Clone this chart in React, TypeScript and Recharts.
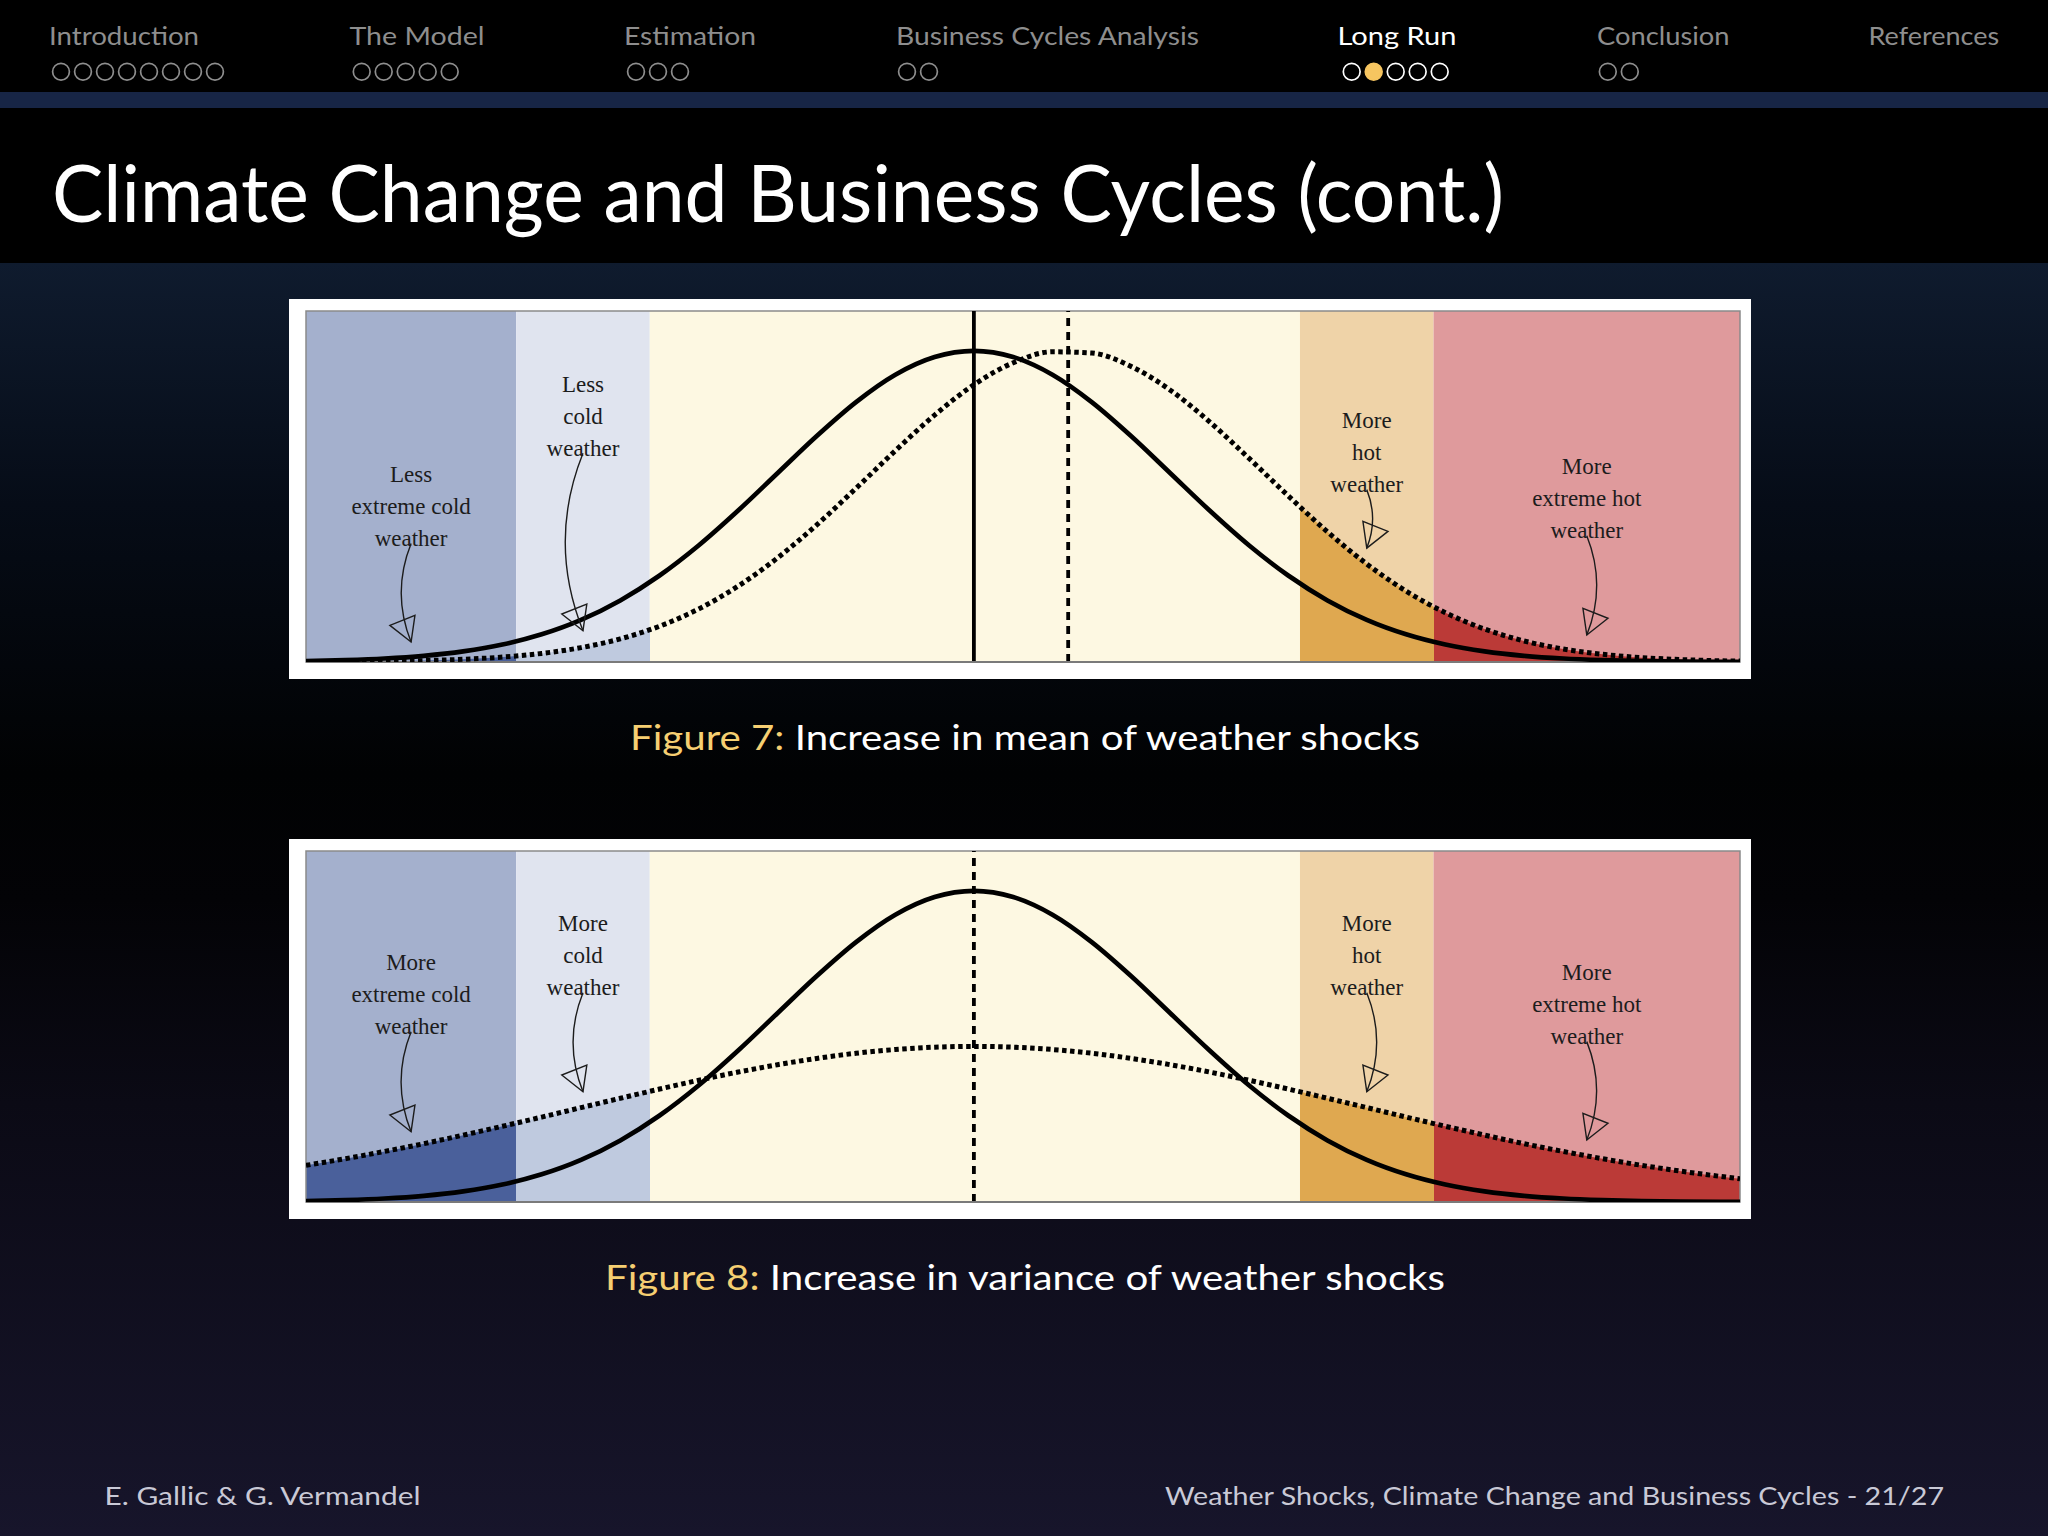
import React from 'react';
import { ComposedChart, Area, Line, XAxis, YAxis, ReferenceArea, ReferenceLine, ReferenceDot } from 'recharts';

// navigation bar
const sections = ['Introduction', 'The Model', 'Estimation', 'Business Cycles Analysis', 'Long Run', 'Conclusion', 'References'];
const sectionFrames = [8, 5, 3, 2, 5, 2, 0];
const activeSection = 4;
const activeFrame = 1;

const slideTitle = 'Climate Change and Business Cycles (cont.)';
const footerLeft = 'E. Gallic & G. Vermandel';
const footerRight = 'Weather Shocks, Climate Change and Business Cycles - 21/27';

// weather shocks, in standard deviations of the current climate
const shocks = [-3.4, -3.2, -3.0, -2.8, -2.6, -2.4, -2.2, -2.0, -1.8, -1.6, -1.4, -1.2, -1.0, -0.8, -0.6, -0.4, -0.2, 0,
  0.2, 0.4, 0.6, 0.8, 1.0, 1.2, 1.4, 1.6, 1.8, 2.0, 2.2, 2.4, 2.6, 2.8, 3.0, 3.2, 3.4, 3.6, 3.8, 3.9];

// density (same in both figures)
const currentClimate = [0.0012, 0.0024, 0.0044, 0.0079, 0.0136, 0.0224, 0.0355, 0.0540, 0.0790, 0.1109, 0.1497, 0.1942,
  0.2420, 0.2897, 0.3332, 0.3683, 0.3910, 0.3989, 0.3910, 0.3683, 0.3332, 0.2897, 0.2420, 0.1942, 0.1497, 0.1109,
  0.0790, 0.0540, 0.0355, 0.0224, 0.0136, 0.0079, 0.0044, 0.0024, 0.0012, 0.0006, 0.0003, 0.0002];

// figure 7, dotted curve
const higherMean = [0.0002, 0.0005, 0.0009, 0.0018, 0.0035, 0.0063, 0.0110, 0.0184, 0.0297, 0.0459, 0.0681, 0.0973,
  0.1334, 0.1758, 0.2227, 0.2709, 0.3166, 0.3555, 0.3836, 0.3977, 0.3961, 0.3790, 0.3485, 0.3079, 0.2613, 0.2131,
  0.1669, 0.1257, 0.0909, 0.0632, 0.0422, 0.0270, 0.0167, 0.0099, 0.0056, 0.0031, 0.0016, 0.0012];
const newMean = 0.48;

// figure 8, dotted curve
const higherVariance = [0.0470, 0.0555, 0.0648, 0.0748, 0.0857, 0.0971, 0.1089, 0.1210, 0.1330, 0.1448, 0.1561, 0.1666,
  0.1760, 0.1841, 0.1907, 0.1955, 0.1985, 0.1995, 0.1985, 0.1955, 0.1907, 0.1841, 0.1760, 0.1666, 0.1561, 0.1448,
  0.1330, 0.1210, 0.1089, 0.0971, 0.0857, 0.0748, 0.0648, 0.0555, 0.0470, 0.0395, 0.0328, 0.0298];

// extreme cold | cold | normal | hot | extreme hot
const bandEdges = [-3.4, -2.33, -1.65, 1.66, 2.34, 3.9];
const noteBands = [0, 1, 3, 4];

const meanNotes = [['Less', 'extreme cold', 'weather'], ['Less', 'cold', 'weather'], ['More', 'hot', 'weather'], ['More', 'extreme hot', 'weather']];
const meanNoteY = [0.199, 0.3145, 0.268, 0.209];
const meanTipY = [0.0256, 0.0401, 0.146, 0.0346];

const varianceNotes = [['More', 'extreme cold', 'weather'], ['More', 'cold', 'weather'], ['More', 'hot', 'weather'], ['More', 'extreme hot', 'weather']];
const varianceNoteY = [0.2654, 0.3154, 0.3154, 0.2526];
const varianceTipY = [0.0901, 0.1414, 0.1414, 0.0795];

const yMax = 0.45;

const meanData = shocks.map((x, i) => ({ x, current: currentClimate[i], future: higherMean[i] }));
const varianceData = shocks.map((x, i) => ({ x, current: currentClimate[i], future: higherVariance[i] }));

// styles
const bandFill = ['#a4b0cd', '#e0e4ef', '#fdf8e2', '#efd3a8', '#df9a9c'];
const tailFill = ['#4a609b', '#bfcadf', 'none', '#dfa850', '#bb3a37'];
const sans = "Lato, 'Open Sans', sans-serif";
const serif = "'Liberation Serif', 'DejaVu Serif', serif";
const navX = [49, 349.5, 624, 896, 1337.5, 1597, 1868.5];
const navW = [150, 135, 132, 303, 119, 132.6, 130.6];
const dotsX = [52, 352.7, 627, 898, 1342.7, 1598.8, 0];

const span = bandEdges[bandEdges.length - 1] - bandEdges[0];
const offsets = bandEdges.map((e) => (e - bandEdges[0]) / span);

const noteShape = (lines: string[]) => (props: any) => (
  <text textAnchor="middle" fontFamily={serif} fontSize={23} fill="#1c1c1c">
    {lines.map((l, i) => (
      <tspan key={i} x={props.cx} y={props.cy + (i - 1) * 32 + 7.5}>{l}</tspan>
    ))}
  </text>
);

const arrowShape = (bend: number) => (props: any) => {
  const { x1, y1, x2, y2 } = props;
  const len = y2 - y1;
  const qx = x1 + bend * len * 0.2;
  const qy = (y1 + y2) / 2;
  let dx = x2 - qx;
  let dy = y2 - qy;
  const m = Math.hypot(dx, dy) || 1;
  dx /= m;
  dy /= m;
  const side = 27;
  const h = side * 0.866;
  const bx = x2 - dx * h;
  const by = y2 - dy * h;
  const nx = -dy;
  const ny = dx;
  const p1 = `${bx + (nx * side) / 2},${by + (ny * side) / 2}`;
  const p2 = `${bx - (nx * side) / 2},${by - (ny * side) / 2}`;
  return (
    <g>
      <path d={`M${x1},${y1} Q${qx},${qy} ${x2},${y2}`} fill="none" stroke="#1c1c1c" strokeWidth={1.4} />
      <path d={`M${x2},${y2} L${p1} L${p2} Z`} fill="none" stroke="#1c1c1c" strokeWidth={1.4} />
    </g>
  );
};

type MeanLine = { x: number; dash?: string };

const DensityChart = ({ data, meanLines, notes, noteY, tipY }: { data: any[]; meanLines: MeanLine[]; notes: string[][]; noteY: number[]; tipY: number[] }) => (
  <ComposedChart width={1462} height={380} data={data} margin={{ top: 12, right: 11, bottom: 17, left: 17 }}>
    <XAxis type="number" dataKey="x" domain={[bandEdges[0], bandEdges[bandEdges.length - 1]]} hide allowDataOverflow />
    <YAxis type="number" domain={[0, yMax]} hide allowDataOverflow />
    {bandFill.map((c, i) => (
      <ReferenceArea key={`band${i}`} x1={bandEdges[i]} x2={bandEdges[i + 1]} y1={0} y2={yMax} fill={c} fillOpacity={1} stroke="none" zIndex={-10} />
    ))}
    <Area type="monotone" dataKey="future" stroke="none" fill="url(#tail-fill)" fillOpacity={1} isAnimationActive={false} />
    {meanLines.map((m, i) => (
      <ReferenceLine key={`mean${i}`} x={m.x} stroke="#000" strokeWidth={3.8} strokeDasharray={m.dash} />
    ))}
    <ReferenceLine y={0} stroke="#7a7a7a" strokeWidth={2} />
    <Line type="monotone" dataKey="current" stroke="#000" strokeWidth={4.6} dot={false} isAnimationActive={false} />
    <Line type="monotone" dataKey="future" stroke="#000" strokeWidth={5} strokeDasharray="4.5 3.5" dot={false} isAnimationActive={false} />
    <ReferenceArea x1={bandEdges[0]} x2={bandEdges[bandEdges.length - 1]} y1={0} y2={yMax} fill="none" stroke="#8a8a8a" strokeWidth={1.5} />
    {notes.map((lines, i) => {
      const b = noteBands[i];
      const cx = (bandEdges[b] + bandEdges[b + 1]) / 2;
      return (
        <ReferenceLine
          key={`arrow${i}`}
          segment={[{ x: cx, y: noteY[i] - 0.047 }, { x: cx, y: tipY[i] }]}
          shape={arrowShape(b < 2 ? -1 : 1)}
        />
      );
    })}
    {notes.map((lines, i) => {
      const b = noteBands[i];
      const cx = (bandEdges[b] + bandEdges[b + 1]) / 2;
      return <ReferenceDot key={`note${i}`} x={cx} y={noteY[i]} r={1} shape={noteShape(lines)} />;
    })}
  </ComposedChart>
);

const Frame = () => (
  <svg width={2048} height={1536} style={{ position: 'absolute', left: 0, top: 0 }}>
    <defs>
      <linearGradient id="slide-bg" x1="0" y1="0" x2="0" y2="1">
        <stop offset={0} stopColor="#0f1b2e" />
        <stop offset={0.19} stopColor="#060c17" />
        <stop offset={0.4} stopColor="#010203" />
        <stop offset={0.5} stopColor="#030306" />
        <stop offset={0.66} stopColor="#0b0a15" />
        <stop offset={1} stopColor="#17152b" />
      </linearGradient>
      <linearGradient id="tail-fill" x1="0" y1="0" x2="1" y2="0">
        <stop offset={0} stopColor={tailFill[0]} />
        <stop offset={offsets[1]} stopColor={tailFill[0]} />
        <stop offset={offsets[1]} stopColor={tailFill[1]} />
        <stop offset={offsets[2]} stopColor={tailFill[1]} />
        <stop offset={offsets[2]} stopColor="#ffffff" stopOpacity={0} />
        <stop offset={offsets[3]} stopColor="#ffffff" stopOpacity={0} />
        <stop offset={offsets[3]} stopColor={tailFill[3]} />
        <stop offset={offsets[4]} stopColor={tailFill[3]} />
        <stop offset={offsets[4]} stopColor={tailFill[4]} />
        <stop offset={1} stopColor={tailFill[4]} />
      </linearGradient>
    </defs>
    <rect x={0} y={0} width={2048} height={263} fill="#000" />
    <rect x={0} y={92} width={2048} height={16} fill="#172545" />
    <rect x={0} y={263} width={2048} height={1273} fill="url(#slide-bg)" />
    {sections.map((s, i) => {
      const active = i === activeSection;
      const col = active ? '#ffffff' : '#8e8e8e';
      return (
        <g key={s}>
          <text x={navX[i]} y={45} fontFamily={sans} fontSize={25} fill={col} textLength={navW[i]} lengthAdjust="spacingAndGlyphs">{s}</text>
          {Array.from({ length: sectionFrames[i] }).map((_, k) => {
            const filled = active && k === activeFrame;
            return (
              <circle key={k} cx={dotsX[i] + 9 + k * 22} cy={71.7} r={8.4}
                fill={filled ? '#f6c560' : 'none'} stroke={filled ? '#f6c560' : col} strokeWidth={1.7} />
            );
          })}
        </g>
      );
    })}
    <text x={52} y={222} fontFamily={sans} fontSize={79} fill="#fff" textLength={1452} lengthAdjust="spacingAndGlyphs">{slideTitle}</text>
    <text x={630} y={750} fontFamily={sans} fontSize={35} textLength={790} lengthAdjust="spacingAndGlyphs">
      <tspan fill="#f6cf72">Figure 7:</tspan>
      <tspan fill="#ffffff"> Increase in mean of weather shocks</tspan>
    </text>
    <text x={605} y={1290} fontFamily={sans} fontSize={35} textLength={840} lengthAdjust="spacingAndGlyphs">
      <tspan fill="#f6cf72">Figure 8:</tspan>
      <tspan fill="#ffffff"> Increase in variance of weather shocks</tspan>
    </text>
    <text x={104.5} y={1505} fontFamily={sans} fontSize={25} fill="#c9c9d6" textLength={316} lengthAdjust="spacingAndGlyphs">{footerLeft}</text>
    <text x={1165} y={1505} fontFamily={sans} fontSize={25} fill="#c9c9d6" textLength={779} lengthAdjust="spacingAndGlyphs">{footerRight}</text>
  </svg>
);

const App = () => (
  <div style={{ position: 'absolute', left: 0, top: 0, width: 2048, height: 1536, overflow: 'hidden', background: '#000' }}>
    <Frame />
    <div style={{ position: 'absolute', left: 289, top: 299, width: 1462, height: 380, background: '#fff' }}>
      <DensityChart data={meanData} meanLines={[{ x: 0 }, { x: newMean, dash: '8 6' }]} notes={meanNotes} noteY={meanNoteY} tipY={meanTipY} />
    </div>
    <div style={{ position: 'absolute', left: 289, top: 839, width: 1462, height: 380, background: '#fff' }}>
      <DensityChart data={varianceData} meanLines={[{ x: 0, dash: '8 6' }]} notes={varianceNotes} noteY={varianceNoteY} tipY={varianceTipY} />
    </div>
  </div>
);

export default App;
